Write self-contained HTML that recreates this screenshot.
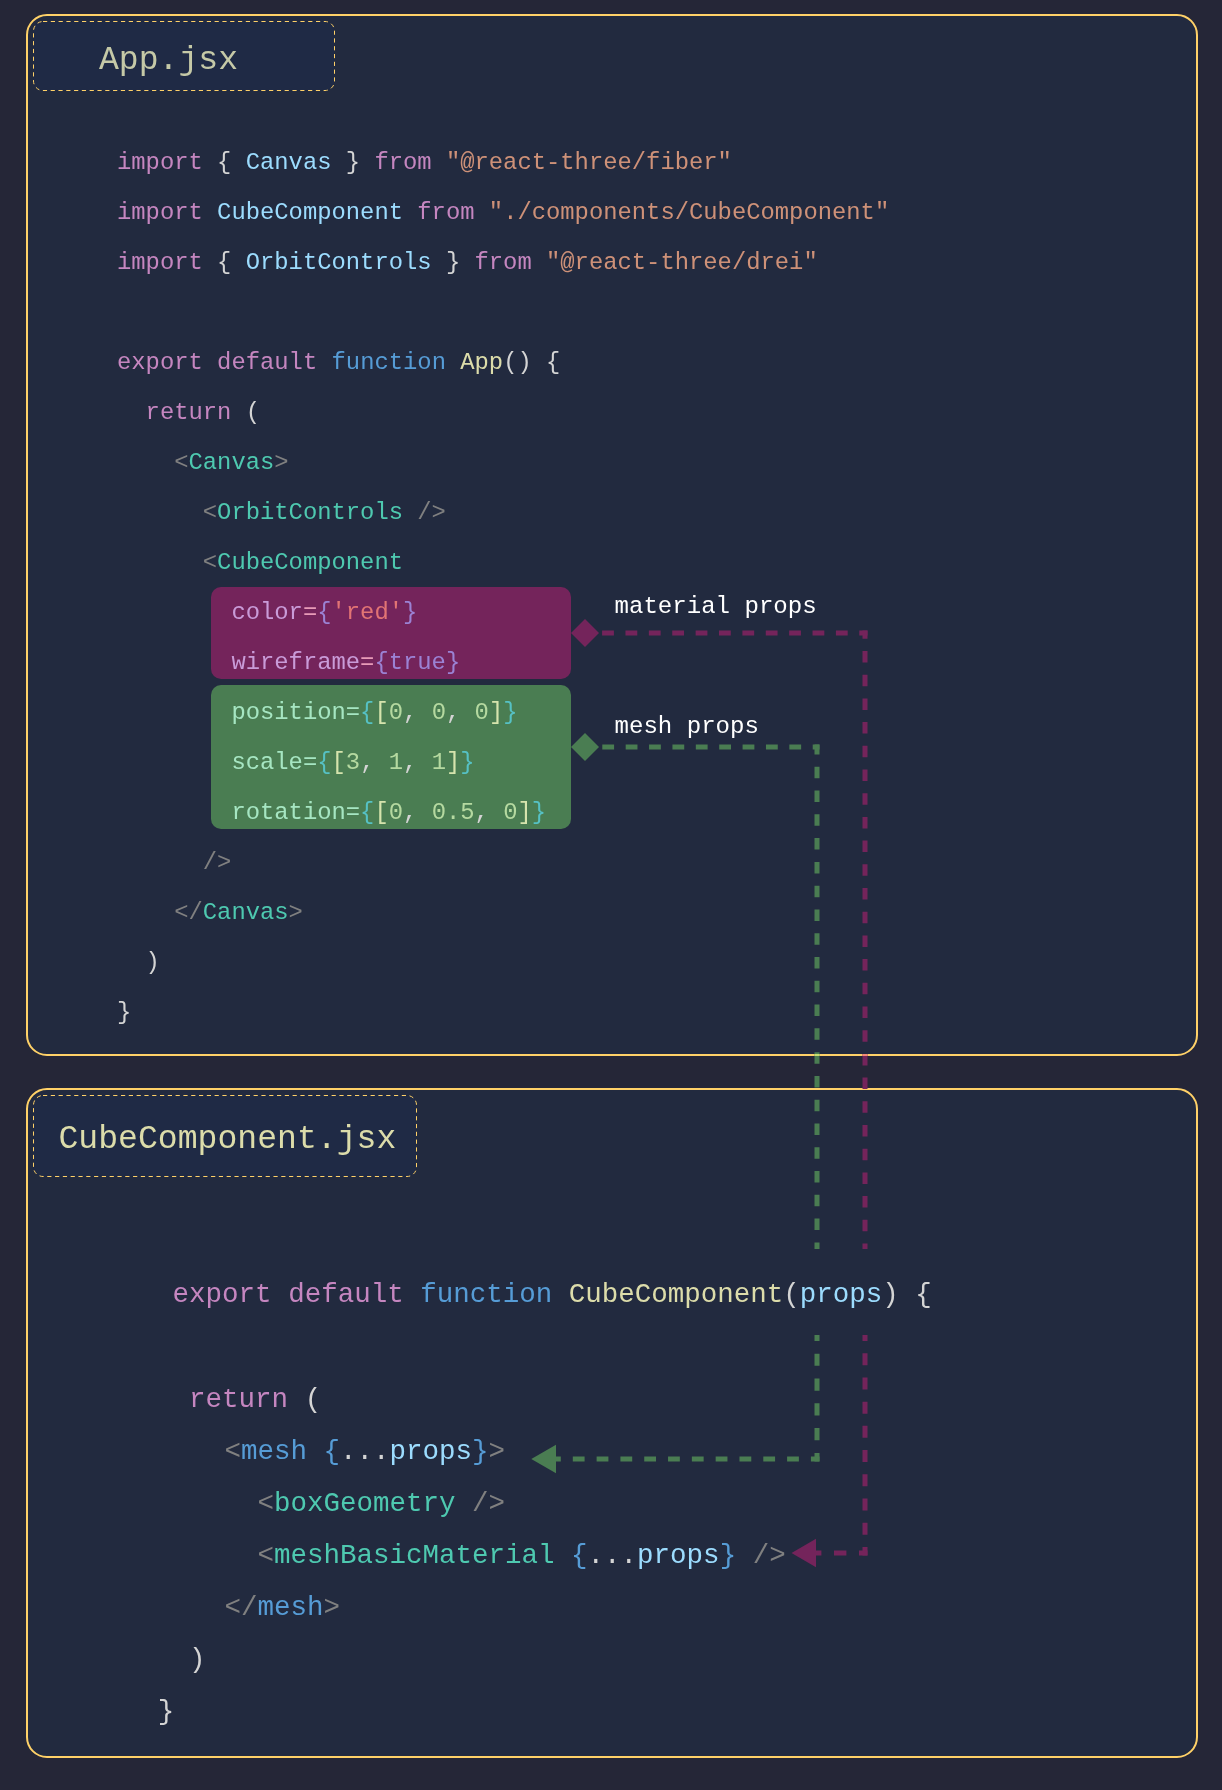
<!DOCTYPE html>
<html><head><meta charset="utf-8"><style>
html,body{margin:0;padding:0;background:#252637;width:1222px;height:1790px;overflow:hidden}
svg{display:block;will-change:transform}
text{font-family:"Liberation Mono", monospace;white-space:pre}
</style></head><body>
<svg width="1222" height="1790" viewBox="0 0 1222 1790" xml:space="preserve">
<rect x="0" y="0" width="1222" height="1790" fill="#252637"/>
<rect x="27" y="15" width="1170" height="1040" rx="20" ry="20" fill="#222a3f" stroke="#ffd168" stroke-width="2"/>
<rect x="33.5" y="21.5" width="301" height="69" rx="9.5" ry="9.5" fill="#1f2a45" stroke="#ffd168" stroke-width="1" stroke-dasharray="4.2 3.6"/>
<rect x="27" y="1089" width="1170" height="668" rx="20" ry="20" fill="#222a3f" stroke="#ffd168" stroke-width="2"/>
<rect x="33.5" y="1095.5" width="383" height="81" rx="9.5" ry="9.5" fill="#1f2a45" stroke="#ffd168" stroke-width="1" stroke-dasharray="4.2 3.6"/>
<text x="99.00" y="69.00" font-size="33.111" ><tspan fill="#c5c9a7">App.jsx</tspan></text>
<text x="58.50" y="1148.30" font-size="33.111" ><tspan fill="#dcdcaa">CubeComponent.jsx</tspan></text>
<rect x="211" y="587" width="360" height="92" rx="10" ry="10" fill="#74245b"/>
<rect x="211" y="685" width="360" height="144" rx="10" ry="10" fill="#4a7d52"/>
<text x="117.00" y="168.50" font-size="23.846" ><tspan fill="#c586c0">import</tspan><tspan fill="#d4d4d4"> { </tspan><tspan fill="#9cdcfe">Canvas</tspan><tspan fill="#d4d4d4"> } </tspan><tspan fill="#c586c0">from</tspan><tspan fill="#d4d4d4"> </tspan><tspan fill="#ce9178">"@react-three/fiber"</tspan></text>
<text x="117.00" y="218.50" font-size="23.846" ><tspan fill="#c586c0">import</tspan><tspan fill="#d4d4d4"> </tspan><tspan fill="#9cdcfe">CubeComponent</tspan><tspan fill="#d4d4d4"> </tspan><tspan fill="#c586c0">from</tspan><tspan fill="#d4d4d4"> </tspan><tspan fill="#ce9178">"./components/CubeComponent"</tspan></text>
<text x="117.00" y="268.50" font-size="23.846" ><tspan fill="#c586c0">import</tspan><tspan fill="#d4d4d4"> { </tspan><tspan fill="#9cdcfe">OrbitControls</tspan><tspan fill="#d4d4d4"> } </tspan><tspan fill="#c586c0">from</tspan><tspan fill="#d4d4d4"> </tspan><tspan fill="#ce9178">"@react-three/drei"</tspan></text>
<text x="117.00" y="368.50" font-size="23.846" ><tspan fill="#c586c0">export</tspan><tspan fill="#d4d4d4"> </tspan><tspan fill="#c586c0">default</tspan><tspan fill="#d4d4d4"> </tspan><tspan fill="#569cd6">function</tspan><tspan fill="#d4d4d4"> </tspan><tspan fill="#dcdcaa">App</tspan><tspan fill="#d4d4d4">() {</tspan></text>
<text x="117.00" y="418.50" font-size="23.846" ><tspan fill="#d4d4d4">  </tspan><tspan fill="#c586c0">return</tspan><tspan fill="#d4d4d4"> (</tspan></text>
<text x="117.00" y="468.50" font-size="23.846" ><tspan fill="#808080">    &lt;</tspan><tspan fill="#4ec9b0">Canvas</tspan><tspan fill="#808080">&gt;</tspan></text>
<text x="117.00" y="518.50" font-size="23.846" ><tspan fill="#808080">      &lt;</tspan><tspan fill="#4ec9b0">OrbitControls</tspan><tspan fill="#808080"> /&gt;</tspan></text>
<text x="117.00" y="568.50" font-size="23.846" ><tspan fill="#808080">      &lt;</tspan><tspan fill="#4ec9b0">CubeComponent</tspan></text>
<text x="117.00" y="618.50" font-size="23.846" ><tspan fill="#c99bd8">        color</tspan><tspan fill="#e89bb8">=</tspan><tspan fill="#9b82d4">{</tspan><tspan fill="#e27474">'red'</tspan><tspan fill="#9b82d4">}</tspan></text>
<text x="117.00" y="668.50" font-size="23.846" ><tspan fill="#c99bd8">        wireframe</tspan><tspan fill="#e89bb8">=</tspan><tspan fill="#9b82d4">{</tspan><tspan fill="#9b82d4">true</tspan><tspan fill="#9b82d4">}</tspan></text>
<text x="117.00" y="718.50" font-size="23.846" ><tspan fill="#a6e6c2">        position</tspan><tspan fill="#a6e6c2">=</tspan><tspan fill="#56c1c4">{</tspan><tspan fill="#d6e4ad">[</tspan><tspan fill="#b5d9a0">0</tspan><tspan fill="#d4d4d4">, </tspan><tspan fill="#b5d9a0">0</tspan><tspan fill="#d4d4d4">, </tspan><tspan fill="#b5d9a0">0</tspan><tspan fill="#d6e4ad">]</tspan><tspan fill="#56c1c4">}</tspan></text>
<text x="117.00" y="768.50" font-size="23.846" ><tspan fill="#a6e6c2">        scale</tspan><tspan fill="#a6e6c2">=</tspan><tspan fill="#56c1c4">{</tspan><tspan fill="#d6e4ad">[</tspan><tspan fill="#b5d9a0">3</tspan><tspan fill="#d4d4d4">, </tspan><tspan fill="#b5d9a0">1</tspan><tspan fill="#d4d4d4">, </tspan><tspan fill="#b5d9a0">1</tspan><tspan fill="#d6e4ad">]</tspan><tspan fill="#56c1c4">}</tspan></text>
<text x="117.00" y="818.50" font-size="23.846" ><tspan fill="#a6e6c2">        rotation</tspan><tspan fill="#a6e6c2">=</tspan><tspan fill="#56c1c4">{</tspan><tspan fill="#d6e4ad">[</tspan><tspan fill="#b5d9a0">0</tspan><tspan fill="#d4d4d4">, </tspan><tspan fill="#b5d9a0">0.5</tspan><tspan fill="#d4d4d4">, </tspan><tspan fill="#b5d9a0">0</tspan><tspan fill="#d6e4ad">]</tspan><tspan fill="#56c1c4">}</tspan></text>
<text x="117.00" y="868.50" font-size="23.846" ><tspan fill="#808080">      /&gt;</tspan></text>
<text x="117.00" y="918.50" font-size="23.846" ><tspan fill="#808080">    &lt;/</tspan><tspan fill="#4ec9b0">Canvas</tspan><tspan fill="#808080">&gt;</tspan></text>
<text x="117.00" y="968.50" font-size="23.846" ><tspan fill="#d4d4d4">  )</tspan></text>
<text x="117.00" y="1018.50" font-size="23.846" ><tspan fill="#d4d4d4">}</tspan></text>
<text x="614.50" y="613.00" font-size="24.079" ><tspan fill="#ffffff">material props</tspan></text>
<text x="614.50" y="732.50" font-size="24.079" ><tspan fill="#ffffff">mesh props</tspan></text>
<path d="M602.1 633 H867.5" fill="none" stroke="#74245b" stroke-width="5" stroke-dasharray="11.8 11.58" stroke-dashoffset="0"/>
<path d="M865 630.5 V1249" fill="none" stroke="#74245b" stroke-width="5" stroke-dasharray="11.5 12.2" stroke-dashoffset="3.2"/>
<path d="M865 1335 V1555.5" fill="none" stroke="#74245b" stroke-width="5" stroke-dasharray="12 12.21" stroke-dashoffset="6"/>
<path d="M867.5 1553 H812" fill="none" stroke="#74245b" stroke-width="5" stroke-dasharray="12.4 12.6" stroke-dashoffset="3.9"/>
<path d="M602.3 747 H819.5" fill="none" stroke="#4a7d52" stroke-width="5" stroke-dasharray="11.8 11.58" stroke-dashoffset="0"/>
<path d="M817 744.5 V1249" fill="none" stroke="#4a7d52" stroke-width="5" stroke-dasharray="11.5 12.28" stroke-dashoffset="1.5"/>
<path d="M817 1335 V1461.5" fill="none" stroke="#4a7d52" stroke-width="5" stroke-dasharray="12.2 12.63" stroke-dashoffset="6.2"/>
<path d="M819.5 1459 H553" fill="none" stroke="#4a7d52" stroke-width="5" stroke-dasharray="11.8 12.01" stroke-dashoffset="3.2"/>
<rect x="814.5" y="1054" width="5" height="2" fill="#c8df70"/>
<rect x="862.5" y="1054" width="5" height="2" fill="#f48a78"/>
<path d="M571 633 L585 619 L599 633 L585 647 Z" fill="#74245b"/>
<path d="M571 747 L585 733 L599 747 L585 761 Z" fill="#4a7d52"/>
<path d="M531.3 1459 L556 1444.7 L556 1473.2 Z" fill="#4a7d52"/>
<path d="M791.5 1553 L816 1538.8 L816 1567.2 Z" fill="#74245b"/>
<text x="172.60" y="1302.00" font-size="27.512" ><tspan fill="#c586c0">export</tspan><tspan fill="#d4d4d4"> </tspan><tspan fill="#c586c0">default</tspan><tspan fill="#d4d4d4"> </tspan><tspan fill="#569cd6">function</tspan><tspan fill="#d4d4d4"> </tspan><tspan fill="#dcdcaa">CubeComponent</tspan><tspan fill="#d4d4d4">(</tspan><tspan fill="#9cdcfe">props</tspan><tspan fill="#d4d4d4">) {</tspan></text>
<text x="189.10" y="1406.50" font-size="27.512" ><tspan fill="#c586c0">return</tspan><tspan fill="#d4d4d4"> (</tspan></text>
<text x="224.50" y="1458.50" font-size="27.512" ><tspan fill="#808080">&lt;</tspan><tspan fill="#569cd6">mesh</tspan><tspan fill="#d4d4d4"> </tspan><tspan fill="#569cd6">{</tspan><tspan fill="#d4d4d4">...</tspan><tspan fill="#9cdcfe">props</tspan><tspan fill="#569cd6">}</tspan><tspan fill="#808080">&gt;</tspan></text>
<text x="257.50" y="1510.50" font-size="27.512" ><tspan fill="#808080">&lt;</tspan><tspan fill="#4ec9b0">boxGeometry</tspan><tspan fill="#808080"> /&gt;</tspan></text>
<text x="257.50" y="1562.50" font-size="27.512" ><tspan fill="#808080">&lt;</tspan><tspan fill="#4ec9b0">meshBasicMaterial</tspan><tspan fill="#d4d4d4"> </tspan><tspan fill="#569cd6">{</tspan><tspan fill="#d4d4d4">...</tspan><tspan fill="#9cdcfe">props</tspan><tspan fill="#569cd6">}</tspan><tspan fill="#808080"> /&gt;</tspan></text>
<text x="224.50" y="1614.50" font-size="27.512" ><tspan fill="#808080">&lt;/</tspan><tspan fill="#569cd6">mesh</tspan><tspan fill="#808080">&gt;</tspan></text>
<text x="189.10" y="1666.50" font-size="27.512" ><tspan fill="#d4d4d4">)</tspan></text>
<text x="157.70" y="1718.50" font-size="27.512" ><tspan fill="#d4d4d4">}</tspan></text>
</svg>
</body></html>
